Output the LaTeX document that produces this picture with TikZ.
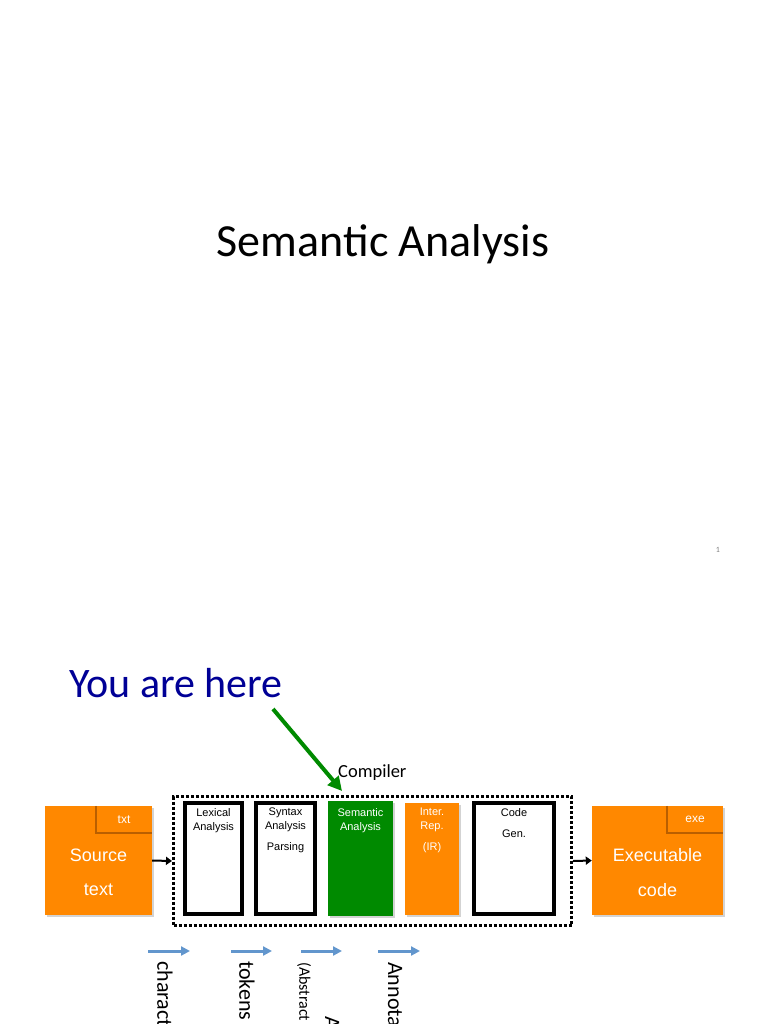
\documentclass[tikz,border=0pt]{standalone}
\usepackage{fontspec}
\setmainfont{Carlito}
\newfontfamily\boxfont{Liberation Sans}
\usetikzlibrary{arrows.meta,shadows}
\definecolor{ppOrange}{RGB}{255,136,0}
\definecolor{ppGreen}{RGB}{0,138,0}
\definecolor{ppNavy}{RGB}{0,0,150}
\definecolor{ppSteel}{RGB}{98,150,205}
\definecolor{ppTabEdge}{RGB}{185,95,0}
\tikzset{
  stagebox/.style={draw, rectangle, line width=3.5pt, fill=white, inner sep=0pt},
  filledbox/.style={rectangle, inner sep=0pt, drop shadow={opacity=0.35, shadow xshift=1.5pt, shadow yshift=-1.5pt}},
  filetab/.style={rectangle, fill=ppOrange, inner sep=0pt, text=white, font=\boxfont\fontsize{12}{14}\selectfont},
  stagetext/.style={anchor=north, align=center, inner sep=0pt, font=\boxfont\fontsize{11}{14}\selectfont},
  bigtext/.style={text=white, font=\boxfont\fontsize{18}{20}\selectfont, inner sep=0pt},
  datalabel/.style={rotate=-90, anchor=west, inner sep=0pt, font=\fontsize{22}{24}\selectfont},
  dataflow/.style={ppSteel, line width=3pt, -{Triangle[length=9pt,width=9pt]}},
  blackflow/.style={line width=2pt, -{Triangle[length=6pt,width=8pt]}}
}
\begin{document}
\begin{tikzpicture}[x=1pt, y=-1pt]
\useasboundingbox (0,0) rectangle (768,1024);
\clip (0,0) rectangle (768,1024);

\node[anchor=base, font=\fontsize{46}{50}\selectfont] (title) at (383,256) {Semantic Analysis};
\node[anchor=base, text=gray, font=\fontsize{8}{9}\selectfont] (pagenum) at (718,552) {1};

\node[anchor=base west, inner sep=0pt, text=ppNavy, font=\fontsize{42}{46}\selectfont] (here) at (69,697) {You are here};
\node[anchor=base west, inner sep=0pt, font=\fontsize{18.5}{20}\selectfont] (complabel) at (338,777) {Compiler};

\node[draw, rectangle, line width=3pt, dash pattern=on 3pt off 2pt, minimum width=398pt, minimum height=129pt, inner sep=0pt] (compiler) at (372.5,861) {};

\node[stagebox, minimum width=57pt, minimum height=111pt] (lexical) at (213.5,858.5) {};
\node[stagebox, minimum width=59pt, minimum height=111pt] (syntax) at (285.5,858.5) {};
\node[filledbox, fill=ppGreen, minimum width=65pt, minimum height=115pt] (semantic) at (360.5,858.5) {};
\node[filledbox, fill=ppOrange, minimum width=54pt, minimum height=112pt] (interrep) at (432,859) {};
\node[stagebox, minimum width=80pt, minimum height=111pt] (codegen) at (514,858.5) {};

\node[stagetext] (lexicaltext) at (213.5,808) {Lexical\\Analysis};
\node[stagetext] (syntaxtext) at (285.5,808) {Syntax\\Analysis\\[7pt]Parsing};
\node[stagetext, text=white] (semantictext) at (360.5,808) {Semantic\\Analysis};
\node[stagetext, text=white] (interreptext) at (432,808) {Inter.\\Rep.\\[7pt](IR)};
\node[stagetext] (codegentext) at (514,808) {Code\\[7pt]Gen.};

\node[filledbox, fill=ppOrange, minimum width=107pt, minimum height=109pt] (source) at (98.5,860.5) {};
\node[filetab, minimum width=56pt, minimum height=27pt] (srctab) at (124,819.5) {txt};
\draw[ppTabEdge, line width=1.5pt] (srctab.north west) -- (srctab.south west) -- (srctab.south east);
\node[bigtext] (sourceA) at (98.5,855) {Source};
\node[bigtext] (sourceB) at (98.5,890) {text};

\node[filledbox, fill=ppOrange, minimum width=131pt, minimum height=109pt] (exec) at (657.5,860.5) {};
\node[filetab, minimum width=56pt, minimum height=27pt] (exetab) at (695,819.5) {exe};
\draw[ppTabEdge, line width=1.5pt] (exetab.north west) -- (exetab.south west) -- (exetab.south east);
\node[bigtext] (execA) at (657.5,855) {Executable};
\node[bigtext] (execB) at (657.5,890) {code};

\draw[blackflow] (source.east) -- (compiler.west);
\draw[blackflow] (compiler.east) -- (exec.west);

\coordinate (hereTail) at (273,709);
\coordinate (semTip) at (342,791);
\draw[ppGreen, line width=4pt, -{Triangle[length=14pt,width=14pt]}] (hereTail) -- (semTip);

\coordinate (charsA) at (148,951);
\coordinate (charsB) at (190,951);
\coordinate (tokensA) at (231,951);
\coordinate (tokensB) at (272,951);
\coordinate (astA) at (301,951);
\coordinate (astB) at (342,951);
\coordinate (annotA) at (378,951);
\coordinate (annotB) at (420,951);
\draw[dataflow] (charsA) -- (charsB);
\draw[dataflow] (tokensA) -- (tokensB);
\draw[dataflow] (astA) -- (astB);
\draw[dataflow] (annotA) -- (annotB);

\node[datalabel] (chars) at (165,961) {charact};
\node[datalabel] (tokens) at (247,961) {tokens};
\node[datalabel, font=\fontsize{16}{18}\selectfont] (ast) at (304,962) {(Abstract};
\node[datalabel, anchor=base west] (astmark) at (325,1016) {A};
\node[datalabel] (annot) at (395,962) {Annota};
\end{tikzpicture}
\end{document}
